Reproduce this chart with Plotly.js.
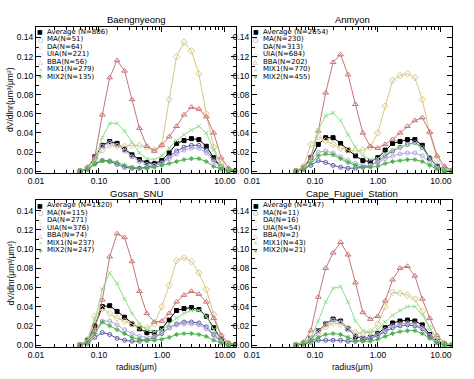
<!DOCTYPE html>
<html><head><meta charset="utf-8">
<script src="https://cdn.plot.ly/plotly-3.0.1.min.js"></script>
<style>html,body{margin:0;padding:0;background:#fff}#c{width:474px;height:379px}</style>
</head><body><div id="c"></div>
<script>
// radius bins (um)
const radius = [0.050,0.066,0.086,0.113,0.148,0.194,0.255,0.335,0.439,0.576,0.756,0.992,1.302,1.708,2.241,2.940,3.857,5.061,6.641,8.713,11.432,15.0];
const stations = ['Baengnyeong','Anmyon','Gosan_SNU','Cape_Fuguei_Station'];
const typeNames = ['Average','MA','DA','UIA','BBA','MIX1','MIX2'];
const xTickVals = [0.01,0.1,1,10];
const xTickText = ['0.01','0.10','1.00','10.00'];
const yTickVals = [0,0.02,0.04,0.06,0.08,0.10,0.12,0.14];
const yTickText = ['0.00','0.02','0.04','0.06','0.08','0.10','0.12','0.14'];

const countsBae = [806,51,64,221,56,279,135];
const countsAnm = [2654,230,313,684,202,770,455];
const countsGos = [1320,115,271,376,74,237,247];
const countsCap = [147,11,16,54,2,43,21];

const bae_Average = [0.000,0.003,0.015,0.027,0.031,0.029,0.023,0.017,0.012,0.009,0.008,0.011,0.019,0.029,0.032,0.034,0.033,0.026,0.014,0.004,0.001,0.000];
const bae_MA      = [0.000,0.002,0.008,0.011,0.010,0.007,0.004,0.003,0.003,0.004,0.006,0.009,0.015,0.021,0.025,0.027,0.027,0.022,0.012,0.004,0.001,0.000];
const bae_DA      = [0.000,0.004,0.012,0.022,0.027,0.026,0.026,0.027,0.027,0.025,0.022,0.027,0.075,0.120,0.135,0.126,0.102,0.060,0.025,0.008,0.002,0.000];
const bae_UIA     = [0.000,0.003,0.013,0.026,0.030,0.027,0.021,0.015,0.010,0.007,0.006,0.008,0.013,0.018,0.022,0.024,0.024,0.019,0.010,0.003,0.001,0.000];
const bae_BBA     = [0.000,0.003,0.015,0.059,0.098,0.116,0.105,0.075,0.045,0.026,0.021,0.027,0.036,0.047,0.059,0.067,0.065,0.057,0.040,0.014,0.003,0.000];
const bae_MIX1    = [0.000,0.003,0.012,0.035,0.050,0.050,0.042,0.030,0.019,0.013,0.012,0.016,0.024,0.032,0.038,0.043,0.047,0.040,0.022,0.006,0.001,0.000];
const bae_MIX2    = [0.000,0.002,0.007,0.011,0.011,0.009,0.006,0.004,0.003,0.003,0.004,0.006,0.008,0.010,0.012,0.013,0.013,0.010,0.005,0.002,0.000,0.000];

const anm_Average = [0.000,0.003,0.014,0.028,0.035,0.035,0.029,0.022,0.016,0.011,0.010,0.014,0.022,0.029,0.031,0.033,0.033,0.027,0.013,0.005,0.001,0.000];
const anm_MA      = [0.000,0.002,0.006,0.011,0.009,0.006,0.004,0.003,0.003,0.004,0.006,0.010,0.016,0.021,0.025,0.028,0.030,0.025,0.014,0.005,0.001,0.000];
const anm_DA      = [0.000,0.005,0.028,0.036,0.032,0.028,0.024,0.022,0.021,0.022,0.025,0.040,0.068,0.095,0.100,0.102,0.098,0.075,0.040,0.012,0.003,0.000];
const anm_UIA     = [0.000,0.003,0.012,0.020,0.021,0.019,0.015,0.011,0.008,0.006,0.006,0.009,0.013,0.016,0.018,0.019,0.019,0.016,0.009,0.003,0.001,0.000];
const anm_BBA     = [0.000,0.004,0.015,0.042,0.082,0.114,0.122,0.101,0.070,0.040,0.026,0.024,0.028,0.033,0.040,0.047,0.053,0.056,0.041,0.016,0.005,0.001];
const anm_MIX1    = [0.000,0.003,0.012,0.043,0.058,0.061,0.053,0.038,0.025,0.016,0.012,0.013,0.018,0.022,0.025,0.028,0.029,0.024,0.013,0.004,0.001,0.000];
const anm_MIX2    = [0.000,0.002,0.008,0.016,0.018,0.017,0.013,0.009,0.006,0.004,0.004,0.005,0.008,0.010,0.011,0.012,0.012,0.010,0.006,0.002,0.000,0.000];

const gos_Average = [0.000,0.005,0.020,0.040,0.041,0.035,0.029,0.022,0.017,0.013,0.013,0.017,0.026,0.036,0.038,0.039,0.037,0.030,0.018,0.006,0.001,0.000];
const gos_MA      = [0.000,0.002,0.008,0.013,0.011,0.007,0.005,0.004,0.004,0.005,0.008,0.012,0.018,0.022,0.024,0.024,0.023,0.019,0.011,0.004,0.001,0.000];
const gos_DA      = [0.000,0.006,0.030,0.038,0.033,0.028,0.025,0.022,0.019,0.018,0.022,0.040,0.062,0.088,0.091,0.087,0.075,0.058,0.032,0.010,0.002,0.000];
const gos_UIA     = [0.000,0.004,0.015,0.025,0.025,0.021,0.016,0.012,0.009,0.008,0.009,0.013,0.018,0.021,0.022,0.022,0.021,0.017,0.010,0.003,0.001,0.000];
const gos_BBA     = [0.000,0.004,0.017,0.047,0.092,0.116,0.112,0.087,0.056,0.033,0.024,0.025,0.033,0.045,0.052,0.056,0.053,0.045,0.028,0.010,0.002,0.000];
const gos_MIX1    = [0.000,0.004,0.025,0.058,0.075,0.064,0.048,0.033,0.022,0.016,0.014,0.016,0.022,0.028,0.033,0.036,0.036,0.030,0.016,0.005,0.001,0.000];
const gos_MIX2    = [0.000,0.003,0.012,0.024,0.020,0.016,0.012,0.008,0.006,0.005,0.005,0.006,0.008,0.011,0.012,0.012,0.011,0.009,0.005,0.002,0.000,0.000];

const cap_Average = [0.000,0.002,0.007,0.015,0.022,0.027,0.025,0.017,0.009,0.007,0.008,0.012,0.018,0.023,0.025,0.026,0.025,0.021,0.011,0.004,0.001,0.000];
const cap_MA      = [0.000,0.001,0.003,0.005,0.005,0.005,0.005,0.004,0.004,0.005,0.007,0.010,0.014,0.018,0.020,0.021,0.020,0.017,0.009,0.003,0.001,0.000];
const cap_DA      = [0.000,0.002,0.005,0.012,0.019,0.023,0.022,0.018,0.013,0.012,0.014,0.022,0.040,0.055,0.054,0.052,0.048,0.035,0.018,0.006,0.001,0.000];
const cap_UIA     = [0.000,0.002,0.007,0.015,0.022,0.026,0.024,0.017,0.010,0.007,0.008,0.011,0.016,0.020,0.022,0.023,0.022,0.018,0.010,0.003,0.001,0.000];
const cap_BBA     = [0.000,0.003,0.015,0.050,0.080,0.096,0.107,0.094,0.065,0.034,0.027,0.030,0.046,0.068,0.080,0.082,0.072,0.048,0.028,0.010,0.002,0.000];
const cap_MIX1    = [0.000,0.002,0.008,0.025,0.045,0.059,0.061,0.045,0.025,0.015,0.013,0.016,0.024,0.031,0.036,0.040,0.040,0.032,0.018,0.006,0.001,0.000];
const cap_MIX2    = [0.000,0.001,0.004,0.008,0.011,0.012,0.011,0.008,0.005,0.004,0.004,0.006,0.009,0.012,0.014,0.015,0.015,0.012,0.007,0.002,0.000,0.000];

const panelData = [
  {counts: countsBae, series: [bae_Average,bae_MA,bae_DA,bae_UIA,bae_BBA,bae_MIX1,bae_MIX2]},
  {counts: countsAnm, series: [anm_Average,anm_MA,anm_DA,anm_UIA,anm_BBA,anm_MIX1,anm_MIX2]},
  {counts: countsGos, series: [gos_Average,gos_MA,gos_DA,gos_UIA,gos_BBA,gos_MIX1,gos_MIX2]},
  {counts: countsCap, series: [cap_Average,cap_MA,cap_DA,cap_UIA,cap_BBA,cap_MIX1,cap_MIX2]}
];

// styles
const colors  = ['#000000','#5a5aa8','#d8c884','#b4a8dc','#c87474','#90dc90','#4cb04c'];
const symbols = ['square','circle-open','diamond-open','circle-open','triangle-up-open','x-thin-open','asterisk-open'];
const msizes  = [4,4,5,4,5,4,4];
const glyphs  = ['\u25A0','\u25CB','\u25C7','\u25CB','\u25B3','\u00D7','\u2217'];

const W = 474, H = 379;
const px = [
  {l:36,  r:236, t:27,  b:173},
  {l:252, r:452, t:27,  b:173},
  {l:36,  r:236, t:200, b:347},
  {l:252, r:452, t:200, b:347}
];
const fx = v => v / W, fy = v => 1 - v / H;
const FONT = 'Liberation Sans, Arial, sans-serif';
const LFONT = 'DejaVu Sans, sans-serif';

const minorX = [0.02,0.03,0.04,0.05,0.06,0.07,0.08,0.09,0.2,0.3,0.4,0.5,0.6,0.7,0.8,0.9,2,3,4,5,6,7,8,9];

const traces = [];
const layout = {
  width: W, height: H, margin: {l:0,r:0,t:0,b:0},
  paper_bgcolor: '#fff', plot_bgcolor: '#fff', showlegend: false,
  font: {family: FONT, size: 8.5, color: '#000'},
  annotations: []
};

px.forEach((p, i) => {
  const k = i === 0 ? '' : String(i + 1);
  const xa = 'x' + k, ya = 'y' + k;
  const axCommon = {showline: true, linecolor: '#000', linewidth: 1, mirror: 'ticks',
    ticks: 'inside', ticklen: 5, tickwidth: 1, tickcolor: '#000', showgrid: false, zeroline: false,
    tickfont: {family: FONT, size: 8.5, color: '#000'}, fixedrange: true};
  layout['xaxis' + k] = Object.assign({}, axCommon, {
    type: 'log', domain: [fx(p.l), fx(p.r)], range: [-2, Math.log10(15)], anchor: ya,
    tickmode: 'array', tickvals: xTickVals, ticktext: xTickText,
    minor: {ticks: 'inside', ticklen: 3, tickcolor: '#000', tickmode: 'array', tickvals: minorX}
  });
  layout['yaxis' + k] = Object.assign({}, axCommon, {
    domain: [fy(p.b), fy(p.t)], range: [-0.002, 0.151], anchor: xa,
    tickmode: 'array', tickvals: yTickVals, ticktext: yTickText,
    minor: {ticks: 'inside', ticklen: 3, tickcolor: '#000', dtick: 0.01}
  });
  const pd = panelData[i];
  pd.series.forEach((s, j) => {
    traces.push({x: radius, y: s, xaxis: xa, yaxis: ya, type: 'scatter', mode: 'lines+markers',
      line: {color: colors[j], width: 1}, cliponaxis: true,
      marker: {symbol: symbols[j], size: msizes[j], color: colors[j], line: {color: colors[j], width: 1}},
      name: typeNames[j]});
  });
  // title
  layout.annotations.push({text: stations[i], xref: 'paper', yref: 'paper',
    x: fx((p.l + p.r) / 2), y: fy(p.t - 7), xanchor: 'center', yanchor: 'middle', showarrow: false,
    font: {family: FONT, size: 9.5, color: '#000'}});
  // legend rows
  pd.counts.forEach((n, j) => {
    const yy = p.t + 5 + 7.5 * j;
    const label = j === 0 ? typeNames[j] + ' (N=' + n + ')' : typeNames[j] + '(N=' + n + ')';
    layout.annotations.push({text: glyphs[j], xref: 'paper', yref: 'paper',
      x: fx(p.l + 4), y: fy(yy), xanchor: 'center', yanchor: 'middle', showarrow: false,
      borderpad: 0, font: {family: LFONT, size: 6, color: colors[j]}});
    layout.annotations.push({text: label, xref: 'paper', yref: 'paper',
      x: fx(p.l + 10), y: fy(yy), xanchor: 'left', yanchor: 'middle', showarrow: false,
      borderpad: 0, font: {family: LFONT, size: 7, color: '#000'}});
  });
});
// axis titles (left column y-title, bottom row x-title)
[0, 2].forEach(i => {
  const p = px[i];
  layout.annotations.push({text: 'dV/dlnr(\u03BCm\u00B3/\u03BCm\u00B2)', xref: 'paper', yref: 'paper',
    x: fx(10), y: fy((p.t + p.b) / 2), xanchor: 'center', yanchor: 'middle', textangle: -90, showarrow: false,
    font: {family: FONT, size: 8.5, color: '#000'}});
});
[2, 3].forEach(i => {
  const p = px[i];
  layout.annotations.push({text: 'radius(\u03BCm)', xref: 'paper', yref: 'paper',
    x: fx((p.l + p.r) / 2), y: fy(367), xanchor: 'center', yanchor: 'middle', showarrow: false,
    font: {family: FONT, size: 8.5, color: '#000'}});
});

Plotly.newPlot('c', traces, layout, {staticPlot: true, displayModeBar: false});
</script>
</body></html>
